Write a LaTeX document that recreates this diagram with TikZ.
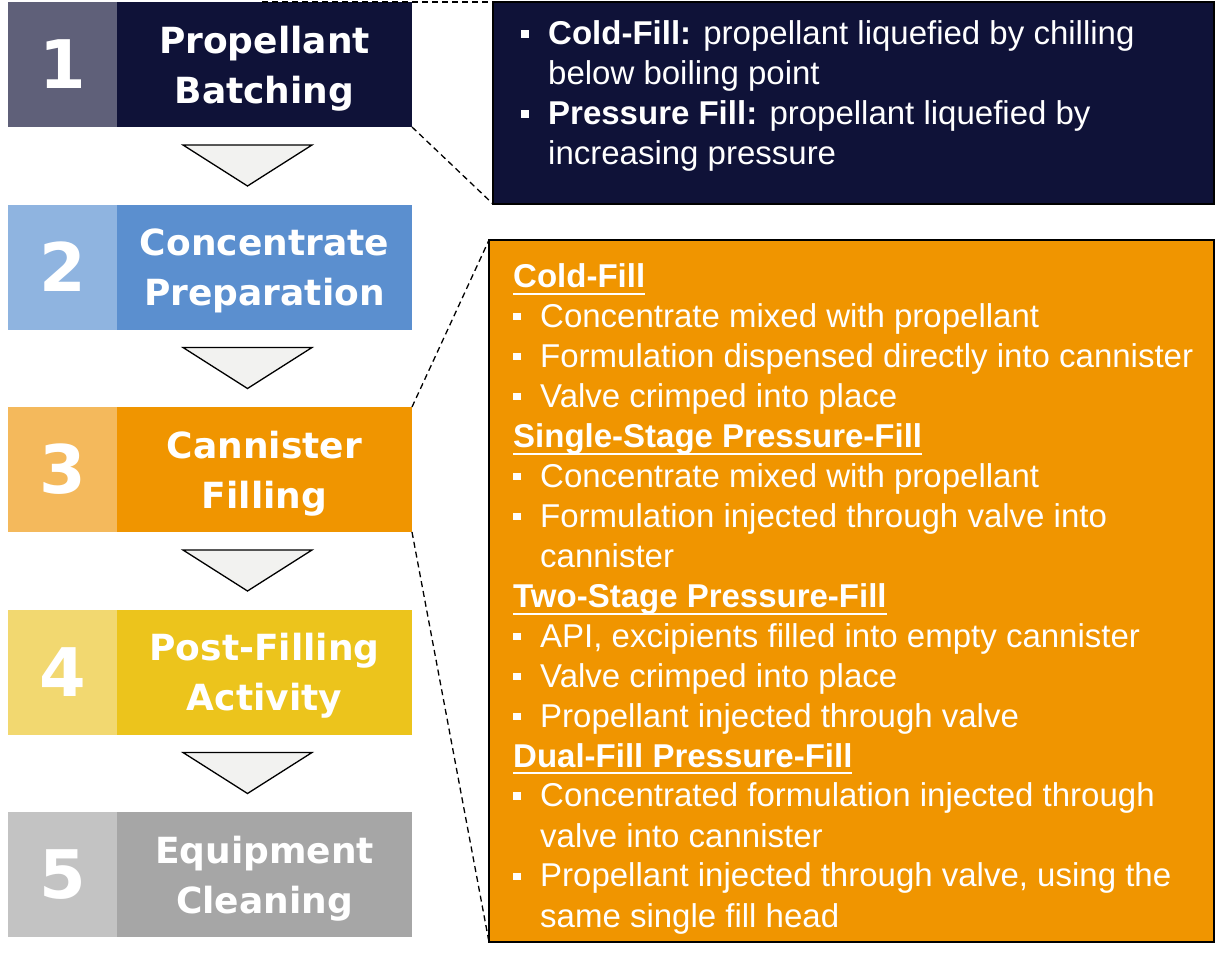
\documentclass[tikz,border=0pt]{standalone}
\usepackage{fontspec}
\setmainfont{Liberation Sans}
\newfontfamily\stagefont{DejaVu Sans}
\usetikzlibrary{positioning}

\definecolor{batchlt}{HTML}{5F6079}
\definecolor{batchdk}{HTML}{0F1238}
\definecolor{concentlt}{HTML}{8FB4E0}
\definecolor{concentdk}{HTML}{5B8FCF}
\definecolor{filllt}{HTML}{F4B95C}
\definecolor{filldk}{HTML}{F09500}
\definecolor{postlt}{HTML}{F2D870}
\definecolor{postdk}{HTML}{ECC41C}
\definecolor{cleanlt}{HTML}{C3C3C3}
\definecolor{cleandk}{HTML}{A6A6A6}
\definecolor{trigrey}{HTML}{F2F2F0}

\newcommand{\sqbul}{\makebox[27pt][l]{\rule[7pt]{7.5pt}{7.5pt}}}
\newcommand{\headul}[1]{\setbox0\hbox{\bfseries #1}\rlap{\rule[-7.5pt]{\wd0}{2pt}}\box0}

\tikzstyle{numbox} = [rectangle, minimum width=109pt, minimum height=125pt, inner sep=0pt, outer sep=0pt, text=white, font=\stagefont\bfseries\fontsize{67}{67}\selectfont]
\tikzstyle{titlebox} = [rectangle, minimum width=295pt, minimum height=125pt, inner sep=0pt, outer sep=0pt, text=white, align=center, text depth=0pt, font=\stagefont\bfseries\fontsize{36}{50}\selectfont]
\tikzstyle{notebox} = [rectangle, draw=black, line width=2pt, inner sep=0pt, outer sep=0pt, anchor=north west]
\tikzstyle{notetext} = [anchor=base west, inner sep=0pt, text=white, font=\fontsize{33}{40}\selectfont]
\tikzstyle{zoomline} = [dash pattern=on 6pt off 4pt, line width=1.3pt]
\tikzstyle{flowtri} = [draw=black, line width=1.3pt, fill=trigrey]

\begin{document}
\begin{tikzpicture}[x=1pt, y=1pt]
		\useasboundingbox (0,0) rectangle (1216,-958);
		% stages
		\node (n1) [numbox, fill=batchlt, anchor=north west] at (8,-2) {1};
		\node (t1) [titlebox, fill=batchdk, right=0pt of n1] {Propellant\\Batching};
		\node (n2) [numbox, fill=concentlt, below=77.5pt of n1] {2};
		\node (t2) [titlebox, fill=concentdk, right=0pt of n2] {Concentrate\\Preparation};
		\node (n3) [numbox, fill=filllt, below=77.5pt of n2] {3};
		\node (t3) [titlebox, fill=filldk, right=0pt of n3] {Cannister\\Filling};
		\node (n4) [numbox, fill=postlt, below=77.5pt of n3] {4};
		\node (t4) [titlebox, fill=postdk, right=0pt of n4] {Post-Filling\\Activity};
		\node (n5) [numbox, fill=cleanlt, below=77.5pt of n4] {5};
		\node (t5) [titlebox, fill=cleandk, right=0pt of n5] {Equipment\\Cleaning};

		\draw [flowtri] ([shift={(175pt,-18pt)}]n1.south west) -- ++(129pt,0) -- ++(-64.5pt,-41pt) -- cycle;
		\draw [flowtri] ([shift={(175pt,-18pt)}]n2.south west) -- ++(129pt,0) -- ++(-64.5pt,-41pt) -- cycle;
		\draw [flowtri] ([shift={(175pt,-18pt)}]n3.south west) -- ++(129pt,0) -- ++(-64.5pt,-41pt) -- cycle;
		\draw [flowtri] ([shift={(175pt,-18pt)}]n4.south west) -- ++(129pt,0) -- ++(-64.5pt,-41pt) -- cycle;

		% detail boxes
		\node (batchnote) [notebox, fill=batchdk, minimum width=721pt, minimum height=202pt] at (493,-2) {};
		\node (batchtext) [notetext] at ([shift={(28pt,-43pt)}]batchnote.north west) {\begin{minipage}[t]{680pt}\lineskiplimit=-100pt\noindent
			\sqbul\textbf{Cold-Fill:} propellant liquefied by chilling\\
			\hspace*{27pt}below boiling point\\
			\sqbul\textbf{Pressure Fill:} propellant liquefied by\\
			\hspace*{27pt}increasing pressure
		\end{minipage}};

		\node (fillnote) [notebox, fill=filldk, minimum width=725pt, minimum height=702pt] at (489,-240) {};
		\node (filltext) [notetext] at ([shift={(24pt,-47pt)}]fillnote.north west) {\begin{minipage}[t]{690pt}\lineskiplimit=-100pt\noindent
			\headul{Cold-Fill}\\
			\sqbul Concentrate mixed with propellant\\
			\sqbul Formulation dispensed directly into cannister\\
			\sqbul Valve crimped into place\\
			\headul{Single-Stage Pressure-Fill}\\
			\sqbul Concentrate mixed with propellant\\
			\sqbul Formulation injected through valve into\\
			\hspace*{27pt}cannister\\
			\headul{Two-Stage Pressure-Fill}\\
			\sqbul API, excipients filled into empty cannister\\
			\sqbul Valve crimped into place\\
			\sqbul Propellant injected through valve\\
			\headul{Dual-Fill Pressure-Fill}\\
			\sqbul Concentrated formulation injected through\\
			\hspace*{27pt}valve into cannister\\
			\sqbul Propellant injected through valve, using the\\
			\hspace*{27pt}same single fill head
		\end{minipage}};

		% zoom lines
		\draw [zoomline, shorten <=-150pt, shorten >=-250pt] (t1.north east) -- (batchnote.north west);
		\draw [zoomline] (t1.south east) -- (batchnote.south west);
		\draw [zoomline] (t3.north east) -- (fillnote.north west);
		\draw [zoomline] (t3.south east) -- (fillnote.south west);
\end{tikzpicture}
\end{document}
